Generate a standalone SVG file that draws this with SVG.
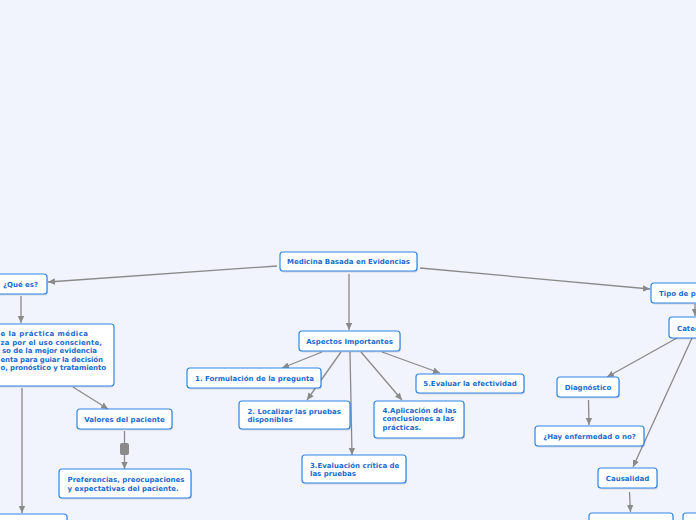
<svg xmlns="http://www.w3.org/2000/svg" width="696" height="520" viewBox="0 0 696 520">
<defs>
<marker id="ah" markerUnits="userSpaceOnUse" markerWidth="8" markerHeight="8" refX="7" refY="4" orient="auto">
<path d="M0,0.8 L7,4 L0,7.2 z" fill="#8a8a8a"/>
</marker>
<style>
.bx{fill:#ffffff;stroke:#2f86e6;stroke-width:1.2}
.sh{fill:#000000;opacity:0.12}
.t{font-family:"DejaVu Sans","Verdana",sans-serif;font-weight:bold;font-size:7px;fill:#1a6cd0}
.c{text-anchor:middle}
.e{text-anchor:end}
.ln{stroke:#8a8a8a;stroke-width:1.3;fill:none;marker-end:url(#ah)}
</style>
</defs>
<rect x="0" y="0" width="696" height="520" fill="#f1f4fd"/>
<g id="connectors">
<path class="ln" d="M349,274 L349,330"/>
<path class="ln" d="M277,266 L48,282"/>
<path class="ln" d="M420,268 L650,289"/>
<path class="ln" d="M695,304 L695,316"/>
<path class="ln" d="M677,338 L607,377"/>
<path class="ln" d="M692,338 L633,467"/>
<path class="ln" d="M588.5,400 L589,425"/>
<path class="ln" d="M629.5,492 L630.5,512"/>
<path class="ln" d="M21,296 L21,323"/>
<path class="ln" d="M22,388 L22,513"/>
<path class="ln" d="M73,387 L108,409"/>
<path d="M124.5,431 L124.5,443" stroke="#8a8a8a" stroke-width="1.3"/>
<rect x="120" y="443" width="9" height="12" rx="2" fill="#8a8a8a"/>
<path class="ln" d="M124.5,455 L124.5,469"/>
<path class="ln" d="M322,352 L282,368"/>
<path class="ln" d="M341,352 L307,400"/>
<path class="ln" d="M350,352 L352,455"/>
<path class="ln" d="M361,352 L402,400"/>
<path class="ln" d="M382,352 L440,373"/>
</g>
<g id="n-medicina">
<rect class="sh" x="281" y="253.5" width="137" height="19" rx="3"/>
<rect class="bx" x="280" y="252" width="137" height="19" rx="3"/>
<text class="t c" x="348.5" y="264">Medicina Basada en Evidencias</text>
</g>
<g id="n-quees">
<rect class="sh" x="-9" y="275.5" width="57" height="20" rx="3"/>
<rect class="bx" x="-10" y="274" width="57" height="20" rx="3"/>
<text class="t c" x="20.5" y="286.5">¿Qué es?</text>
</g>
<g id="n-definicion">
<rect class="sh" x="-9" y="325.5" width="123" height="62" rx="3"/>
<rect class="bx" x="-10" y="324" width="124" height="62" rx="3"/>
<text class="t" x="0.5" y="336" textLength="87.5" lengthAdjust="spacing">e la práctica médica</text>
<text class="t" x="0.5" y="344.7" textLength="101.5" lengthAdjust="spacing">za por el uso consciente,</text>
<text class="t" x="2" y="353.2" textLength="95" lengthAdjust="spacing">so de la mejor evidencia</text>
<text class="t" x="0.5" y="361.6" textLength="102.5" lengthAdjust="spacing">enta para guiar la decisión</text>
<text class="t" x="0.5" y="370.2" textLength="105.5" lengthAdjust="spacing">o, pronóstico y tratamiento</text>
</g>
<g id="n-valores">
<rect class="sh" x="78" y="410.5" width="95" height="20" rx="3"/>
<rect class="bx" x="77" y="409" width="95" height="20" rx="3"/>
<text class="t c" x="124.5" y="421.7">Valores del paciente</text>
</g>
<g id="n-preferencias">
<rect class="sh" x="60" y="470.5" width="132" height="29" rx="3"/>
<rect class="bx" x="59" y="469" width="132" height="29" rx="3"/>
<text class="t" x="67.5" y="482">Preferencias, preocupaciones</text>
<text class="t" x="67.5" y="491">y expectativas del paciente.</text>
</g>
<g id="n-bottomleft">
<rect class="sh" x="-9" y="515.5" width="77" height="20" rx="3"/>
<rect class="bx" x="-10" y="514" width="77" height="20" rx="3"/>
</g>
<g id="n-aspectos">
<rect class="sh" x="300" y="332.5" width="101" height="20" rx="3"/>
<rect class="bx" x="299" y="331" width="101" height="20" rx="3"/>
<text class="t c" x="349.5" y="343.7">Aspectos Importantes</text>
</g>
<g id="n-formulacion">
<rect class="sh" x="188" y="369.5" width="134" height="20" rx="3"/>
<rect class="bx" x="187" y="368" width="134" height="20" rx="3"/>
<text class="t c" x="254.5" y="380.7">1. Formulación de la pregunta</text>
</g>
<g id="n-localizar">
<rect class="sh" x="240" y="402.5" width="111" height="28" rx="3"/>
<rect class="bx" x="239" y="401" width="111" height="28" rx="3"/>
<text class="t" x="247.5" y="413.5">2. Localizar las pruebas</text>
<text class="t" x="247.5" y="421.8">disponibles</text>
</g>
<g id="n-evaluacion">
<rect class="sh" x="303" y="456.5" width="104" height="28" rx="3"/>
<rect class="bx" x="302" y="455" width="104" height="28" rx="3"/>
<text class="t" x="310" y="468">3.Evaluación crítica de</text>
<text class="t" x="310" y="476">las pruebas</text>
</g>
<g id="n-aplicacion">
<rect class="sh" x="375" y="402.5" width="90" height="37" rx="3"/>
<rect class="bx" x="374" y="401" width="90" height="37" rx="3"/>
<text class="t" x="382.5" y="413">4.Aplicación de las</text>
<text class="t" x="382.5" y="421.3">conclusiones a las</text>
<text class="t" x="382.5" y="429.6">prácticas.</text>
</g>
<g id="n-efectividad">
<rect class="sh" x="417" y="375.5" width="108" height="19" rx="3"/>
<rect class="bx" x="416" y="374" width="108" height="19" rx="3"/>
<text class="t c" x="470" y="386">5.Evaluar la efectividad</text>
</g>
<g id="n-tipo">
<rect class="sh" x="652" y="284.5" width="60" height="20" rx="3"/>
<rect class="bx" x="651" y="283" width="60" height="20" rx="3"/>
<text class="t" x="659" y="296">Tipo de p</text>
</g>
<g id="n-categ">
<rect class="sh" x="670" y="318.5" width="40" height="21" rx="3"/>
<rect class="bx" x="669" y="317" width="40" height="21" rx="3"/>
<text class="t" x="677" y="330.5">Categ</text>
</g>
<g id="n-diagnostico">
<rect class="sh" x="558" y="378.5" width="62" height="20" rx="3"/>
<rect class="bx" x="557" y="377" width="62" height="20" rx="3"/>
<text class="t c" x="588" y="390">Diagnóstico</text>
</g>
<g id="n-hay">
<rect class="sh" x="536" y="427.5" width="109" height="20" rx="3"/>
<rect class="bx" x="535" y="426" width="109" height="20" rx="3"/>
<text class="t c" x="589.5" y="438.5">¿Hay enfermedad o no?</text>
</g>
<g id="n-causalidad">
<rect class="sh" x="599" y="469.5" width="59" height="20" rx="3"/>
<rect class="bx" x="598" y="468" width="59" height="20" rx="3"/>
<text class="t c" x="627.5" y="481">Causalidad</text>
</g>
<g id="n-bottom1">
<rect class="sh" x="590" y="514.5" width="84" height="20" rx="3"/>
<rect class="bx" x="589" y="513" width="84" height="20" rx="3"/>
</g>
<g id="n-bottom2">
<rect class="sh" x="684" y="514.5" width="40" height="20" rx="3"/>
<rect class="bx" x="683" y="513" width="40" height="20" rx="3"/>
</g>
</svg>
